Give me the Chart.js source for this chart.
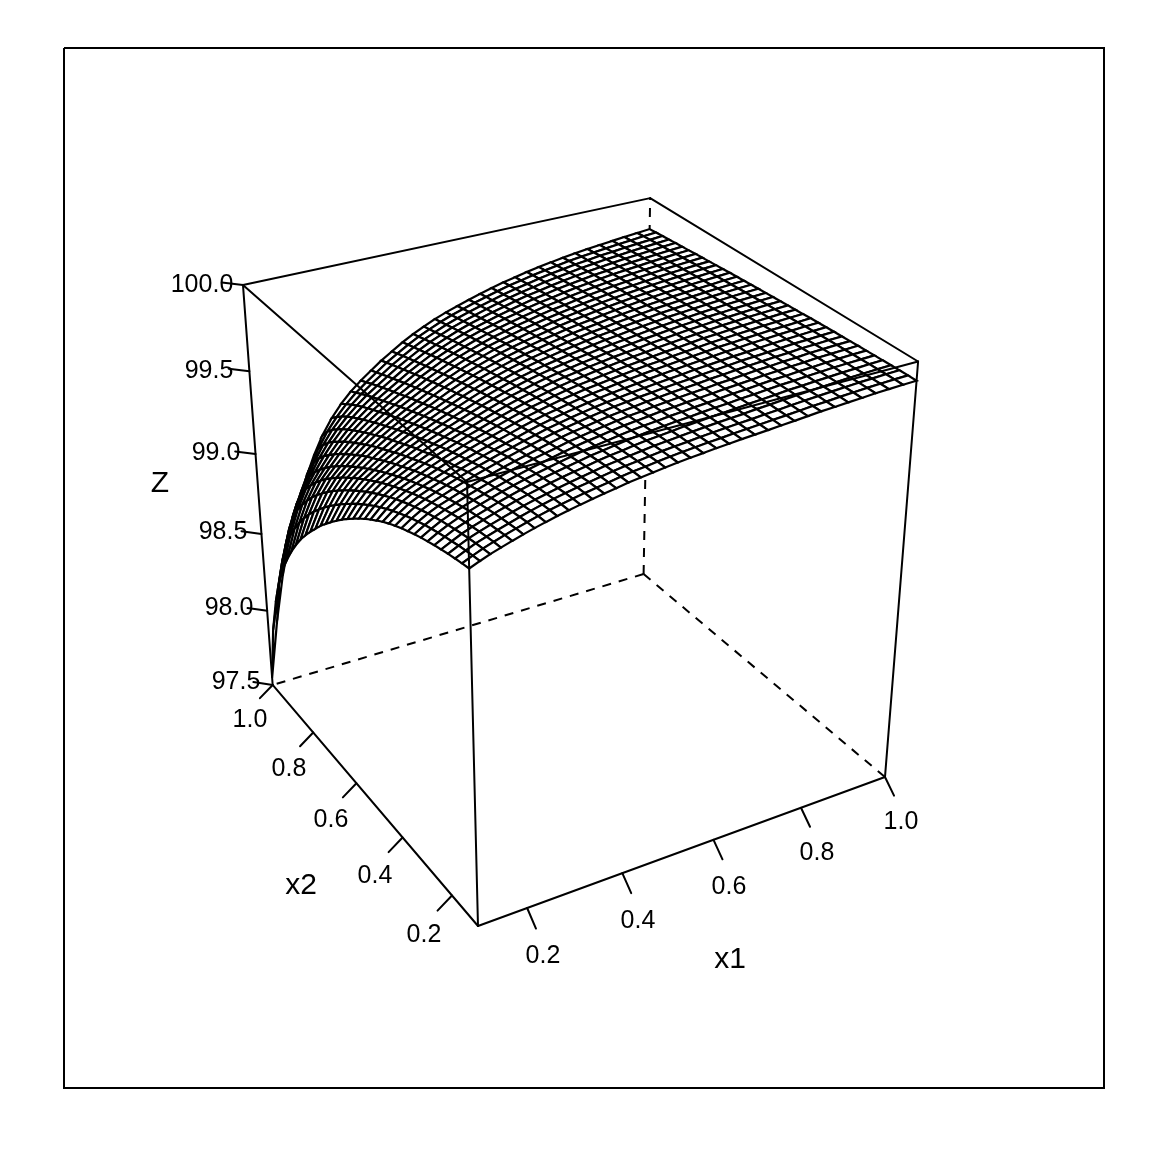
<!DOCTYPE html>
<html>
<head>
<meta charset="utf-8">
<style>
  html, body { margin: 0; padding: 0; background: #fff; }
  #wrap { width: 1152px; height: 1152px; }
</style>
<script src="https://cdn.jsdelivr.net/npm/chart.js"></script>
</head>
<body>
<div id="wrap"><canvas id="myChart" width="1152" height="1152"></canvas></div>
<script>
const x1Values = [0.1,0.12,0.139,0.159,0.18,0.201,0.222,0.243,0.265,0.287,0.309,0.332,0.355,0.378,0.402,0.426,0.45,0.474,0.499,0.524,0.55,0.576,0.602,0.628,0.655,0.682,0.709,0.737,0.765,0.793,0.822,0.851,0.88,0.91,0.939,0.97,1.0];
const x2Values = [0.1,0.125,0.15,0.175,0.2,0.225,0.25,0.275,0.3,0.325,0.35,0.375,0.4,0.425,0.45,0.475,0.5,0.525,0.55,0.575,0.6,0.625,0.65,0.675,0.7,0.725,0.75,0.775,0.8,0.825,0.85,0.875,0.9,0.925,0.95,0.975,1.0];
// one row per x1, one column per x2
const zRows = [
[99.555,99.547,99.537,99.527,99.515,99.503,99.489,99.475,99.459,99.441,99.423,99.403,99.381,99.357,99.33,99.302,99.272,99.24,99.206,99.17,99.132,99.092,99.05,99.006,98.96,98.909,98.857,98.801,98.741,98.673,98.597,98.512,98.416,98.292,98.131,97.911,97.55],
[99.578,99.571,99.563,99.554,99.543,99.532,99.52,99.507,99.493,99.477,99.461,99.443,99.423,99.402,99.379,99.355,99.329,99.301,99.272,99.241,99.208,99.174,99.138,99.1,99.061,99.019,98.974,98.927,98.877,98.82,98.757,98.688,98.609,98.509,98.38,98.205,97.92],
[99.599,99.593,99.586,99.578,99.568,99.558,99.546,99.535,99.521,99.507,99.492,99.476,99.458,99.439,99.419,99.397,99.373,99.349,99.323,99.296,99.267,99.237,99.205,99.173,99.139,99.102,99.064,99.023,98.98,98.932,98.879,98.821,98.755,98.673,98.568,98.427,98.2],
[99.617,99.612,99.605,99.598,99.589,99.579,99.569,99.558,99.545,99.532,99.518,99.503,99.486,99.469,99.45,99.43,99.409,99.387,99.364,99.339,99.313,99.287,99.259,99.23,99.199,99.167,99.134,99.098,99.061,99.019,98.974,98.924,98.869,98.801,98.715,98.601,98.42],
[99.635,99.631,99.624,99.617,99.609,99.599,99.589,99.578,99.566,99.553,99.54,99.526,99.51,99.493,99.476,99.457,99.438,99.417,99.395,99.373,99.349,99.325,99.299,99.273,99.246,99.217,99.187,99.155,99.122,99.086,99.047,99.004,98.958,98.901,98.831,98.74,98.6],
[99.653,99.649,99.642,99.635,99.628,99.618,99.609,99.598,99.587,99.574,99.562,99.548,99.533,99.516,99.501,99.483,99.466,99.446,99.425,99.406,99.384,99.362,99.337,99.314,99.291,99.265,99.237,99.209,99.18,99.149,99.115,99.079,99.041,98.994,98.938,98.868,98.764],
[99.669,99.666,99.66,99.653,99.646,99.637,99.627,99.616,99.606,99.593,99.582,99.569,99.555,99.539,99.525,99.508,99.492,99.473,99.454,99.436,99.416,99.395,99.373,99.352,99.331,99.307,99.283,99.257,99.232,99.205,99.176,99.144,99.113,99.074,99.03,98.975,98.9],
[99.684,99.682,99.676,99.669,99.663,99.654,99.645,99.634,99.625,99.612,99.601,99.589,99.575,99.56,99.548,99.531,99.517,99.499,99.481,99.465,99.446,99.427,99.406,99.387,99.368,99.346,99.324,99.301,99.278,99.254,99.229,99.202,99.175,99.143,99.108,99.065,99.012],
[99.699,99.697,99.692,99.685,99.679,99.671,99.662,99.652,99.643,99.63,99.62,99.608,99.595,99.581,99.569,99.554,99.54,99.524,99.507,99.492,99.474,99.457,99.438,99.42,99.402,99.382,99.362,99.342,99.321,99.299,99.277,99.253,99.23,99.204,99.174,99.141,99.103],
[99.712,99.71,99.706,99.699,99.694,99.686,99.678,99.668,99.66,99.647,99.638,99.626,99.614,99.601,99.59,99.576,99.562,99.547,99.531,99.517,99.501,99.485,99.468,99.451,99.433,99.416,99.397,99.379,99.36,99.339,99.32,99.299,99.279,99.256,99.231,99.205,99.177],
[99.725,99.723,99.719,99.713,99.708,99.701,99.693,99.684,99.675,99.664,99.655,99.644,99.632,99.62,99.61,99.597,99.584,99.57,99.555,99.542,99.527,99.512,99.496,99.481,99.464,99.447,99.43,99.414,99.396,99.377,99.359,99.341,99.322,99.303,99.281,99.259,99.237],
[99.737,99.735,99.732,99.726,99.721,99.715,99.707,99.699,99.691,99.68,99.672,99.661,99.65,99.639,99.629,99.617,99.605,99.592,99.579,99.566,99.552,99.538,99.524,99.509,99.493,99.478,99.462,99.447,99.431,99.413,99.397,99.38,99.363,99.345,99.327,99.307,99.289],
[99.748,99.746,99.743,99.738,99.733,99.727,99.72,99.713,99.705,99.696,99.688,99.678,99.668,99.658,99.648,99.637,99.626,99.614,99.602,99.59,99.577,99.564,99.551,99.537,99.523,99.509,99.494,99.48,99.465,99.449,99.434,99.418,99.402,99.386,99.369,99.352,99.335],
[99.759,99.757,99.754,99.75,99.745,99.739,99.733,99.727,99.719,99.712,99.704,99.695,99.686,99.677,99.667,99.657,99.647,99.636,99.625,99.614,99.602,99.59,99.578,99.565,99.553,99.54,99.526,99.513,99.499,99.485,99.471,99.456,99.441,99.426,99.411,99.396,99.38],
[99.771,99.769,99.766,99.763,99.758,99.753,99.747,99.741,99.734,99.727,99.72,99.712,99.703,99.695,99.686,99.677,99.667,99.657,99.647,99.636,99.626,99.615,99.603,99.592,99.58,99.568,99.556,99.543,99.53,99.517,99.504,99.491,99.477,99.463,99.449,99.435,99.42],
[99.78,99.779,99.776,99.772,99.768,99.763,99.758,99.753,99.746,99.74,99.733,99.726,99.718,99.711,99.702,99.694,99.685,99.676,99.667,99.657,99.647,99.637,99.627,99.617,99.606,99.595,99.584,99.572,99.56,99.549,99.537,99.524,99.512,99.499,99.486,99.473,99.46],
[99.788,99.787,99.784,99.781,99.777,99.773,99.768,99.763,99.757,99.751,99.745,99.739,99.732,99.724,99.717,99.709,99.701,99.693,99.684,99.676,99.667,99.657,99.648,99.638,99.629,99.618,99.608,99.598,99.587,99.576,99.565,99.554,99.542,99.531,99.519,99.507,99.495],
[99.797,99.796,99.793,99.79,99.787,99.783,99.779,99.774,99.768,99.763,99.757,99.751,99.745,99.738,99.731,99.724,99.716,99.709,99.701,99.693,99.684,99.676,99.667,99.658,99.649,99.64,99.63,99.62,99.61,99.6,99.59,99.58,99.569,99.558,99.547,99.536,99.525],
[99.805,99.804,99.802,99.799,99.796,99.792,99.788,99.784,99.779,99.774,99.768,99.763,99.757,99.751,99.744,99.738,99.731,99.724,99.717,99.709,99.701,99.694,99.686,99.677,99.669,99.66,99.652,99.643,99.633,99.624,99.615,99.605,99.595,99.586,99.576,99.565,99.555],
[99.812,99.811,99.809,99.806,99.803,99.8,99.796,99.792,99.788,99.783,99.778,99.773,99.767,99.762,99.756,99.75,99.743,99.737,99.73,99.723,99.716,99.709,99.701,99.694,99.686,99.678,99.67,99.661,99.653,99.644,99.636,99.627,99.618,99.608,99.599,99.59,99.58],
[99.818,99.817,99.815,99.813,99.81,99.807,99.803,99.8,99.795,99.791,99.787,99.782,99.777,99.771,99.766,99.76,99.754,99.748,99.742,99.736,99.729,99.722,99.715,99.708,99.701,99.694,99.686,99.678,99.671,99.663,99.654,99.646,99.638,99.629,99.621,99.612,99.603],
[99.825,99.824,99.822,99.82,99.818,99.815,99.811,99.808,99.804,99.8,99.796,99.791,99.786,99.782,99.776,99.771,99.766,99.76,99.754,99.748,99.742,99.736,99.729,99.723,99.716,99.709,99.702,99.695,99.688,99.68,99.673,99.665,99.657,99.649,99.641,99.633,99.625],
[99.83,99.829,99.828,99.826,99.823,99.82,99.817,99.814,99.811,99.807,99.803,99.799,99.794,99.79,99.785,99.78,99.775,99.77,99.765,99.759,99.753,99.748,99.742,99.736,99.729,99.723,99.716,99.71,99.703,99.696,99.689,99.682,99.675,99.668,99.66,99.653,99.645],
[99.836,99.835,99.834,99.832,99.83,99.827,99.824,99.821,99.818,99.815,99.811,99.807,99.803,99.799,99.795,99.79,99.785,99.781,99.776,99.77,99.765,99.76,99.754,99.749,99.743,99.737,99.731,99.725,99.719,99.712,99.706,99.699,99.693,99.686,99.679,99.672,99.665],
[99.841,99.84,99.839,99.837,99.835,99.833,99.83,99.827,99.824,99.821,99.818,99.814,99.811,99.807,99.803,99.798,99.794,99.79,99.785,99.78,99.776,99.771,99.766,99.76,99.755,99.75,99.744,99.738,99.733,99.727,99.721,99.715,99.709,99.702,99.696,99.69,99.683],
[99.846,99.845,99.844,99.842,99.841,99.838,99.836,99.833,99.83,99.827,99.824,99.821,99.818,99.814,99.81,99.806,99.802,99.798,99.794,99.789,99.785,99.78,99.775,99.77,99.765,99.76,99.755,99.75,99.744,99.739,99.733,99.728,99.722,99.716,99.71,99.704,99.698],
[99.852,99.851,99.85,99.849,99.847,99.845,99.843,99.84,99.838,99.835,99.832,99.829,99.825,99.822,99.819,99.815,99.811,99.807,99.803,99.799,99.795,99.791,99.786,99.782,99.777,99.772,99.767,99.762,99.757,99.752,99.747,99.742,99.736,99.731,99.725,99.72,99.714],
[99.857,99.856,99.855,99.854,99.852,99.85,99.848,99.846,99.843,99.841,99.838,99.835,99.832,99.829,99.826,99.822,99.819,99.815,99.811,99.808,99.804,99.8,99.795,99.791,99.787,99.782,99.778,99.773,99.769,99.764,99.759,99.754,99.749,99.744,99.739,99.733,99.728],
[99.863,99.862,99.861,99.86,99.858,99.857,99.855,99.852,99.85,99.848,99.845,99.842,99.839,99.836,99.833,99.83,99.827,99.823,99.82,99.816,99.812,99.808,99.804,99.8,99.796,99.792,99.788,99.783,99.779,99.774,99.769,99.765,99.76,99.755,99.75,99.745,99.74],
[99.869,99.868,99.867,99.866,99.865,99.863,99.861,99.859,99.857,99.854,99.852,99.849,99.846,99.844,99.841,99.838,99.834,99.831,99.828,99.824,99.821,99.817,99.813,99.809,99.805,99.801,99.797,99.793,99.789,99.784,99.78,99.776,99.771,99.766,99.762,99.757,99.752],
[99.873,99.872,99.872,99.87,99.869,99.867,99.865,99.863,99.861,99.859,99.857,99.854,99.852,99.849,99.846,99.843,99.84,99.837,99.834,99.83,99.827,99.824,99.82,99.816,99.813,99.809,99.805,99.801,99.797,99.793,99.789,99.784,99.78,99.776,99.771,99.767,99.762],
[99.878,99.878,99.877,99.875,99.874,99.873,99.871,99.869,99.867,99.865,99.862,99.86,99.858,99.855,99.852,99.849,99.847,99.844,99.841,99.837,99.834,99.831,99.827,99.824,99.82,99.817,99.813,99.809,99.805,99.801,99.797,99.793,99.789,99.785,99.781,99.776,99.772],
[99.882,99.882,99.881,99.88,99.878,99.877,99.875,99.873,99.871,99.869,99.867,99.865,99.862,99.86,99.857,99.855,99.852,99.849,99.846,99.843,99.84,99.837,99.833,99.83,99.826,99.823,99.819,99.816,99.812,99.808,99.804,99.801,99.797,99.792,99.788,99.784,99.78],
[99.887,99.887,99.886,99.885,99.883,99.882,99.88,99.879,99.877,99.875,99.873,99.87,99.868,99.866,99.863,99.86,99.858,99.855,99.852,99.849,99.846,99.843,99.84,99.836,99.833,99.83,99.826,99.823,99.819,99.815,99.812,99.808,99.804,99.8,99.796,99.792,99.788],
[99.89,99.89,99.889,99.888,99.886,99.885,99.884,99.882,99.88,99.878,99.876,99.874,99.872,99.869,99.867,99.864,99.862,99.859,99.856,99.854,99.851,99.848,99.845,99.841,99.838,99.835,99.832,99.828,99.825,99.821,99.818,99.814,99.81,99.807,99.803,99.799,99.795],
[99.893,99.893,99.892,99.891,99.89,99.888,99.887,99.885,99.884,99.882,99.88,99.878,99.876,99.873,99.871,99.869,99.866,99.864,99.861,99.858,99.856,99.853,99.85,99.847,99.844,99.841,99.838,99.835,99.831,99.828,99.825,99.821,99.818,99.814,99.81,99.807,99.803],
[99.895,99.895,99.894,99.893,99.892,99.891,99.889,99.888,99.886,99.884,99.883,99.881,99.879,99.877,99.874,99.872,99.87,99.867,99.865,99.862,99.86,99.857,99.854,99.852,99.849,99.846,99.843,99.84,99.837,99.834,99.83,99.827,99.824,99.82,99.817,99.814,99.81]
];
const x1Ticks = [0.2, 0.4, 0.6, 0.8, 1.0];
const x2Ticks = [0.2, 0.4, 0.6, 0.8, 1.0];
const zTicks = [97.5, 98.0, 98.5, 99.0, 99.5, 100.0];
const x1Min = 0.1, x1Max = 1.0, x2Min = 0.1, x2Max = 1.0, zMin = 97.5, zMax = 100.0;

// perspective of the box, fitted on its corners
function project(x1, x2, z) {
  const X = (x1 - x1Min) / (x1Max - x1Min);
  const Y = (x2 - x2Min) / (x2Max - x2Min);
  const Z = (z - zMin) / (zMax - zMin);
  const w = 1 + 0.0989 * X + 0.1615 * Y - 0.105 * Z;
  return {
    x: (478 + 494.5 * X - 161.3 * Y - 60 * Z) / w,
    y: (926 - 72.1 * X - 130.4 * Y - 494.6 * Z) / w
  };
}

const datasets = [];
function addLine(points, opts) {
  datasets.push(Object.assign({
    data: points, showLine: true, pointRadius: 0, borderColor: "#000",
    borderWidth: 2, tension: 0, fill: false, borderCapStyle: "round"
  }, opts));
}
function edge(a, b, opts) {
  addLine([project(a[0], a[1], a[2]), project(b[0], b[1], b[2])], opts);
}

// hidden box edges
const dashed = { borderDash: [9, 8], borderCapStyle: "butt" };
edge([x1Max, x2Max, zMin], [x1Min, x2Max, zMin], dashed);
edge([x1Max, x2Max, zMin], [x1Max, x2Min, zMin], dashed);
edge([x1Max, x2Max, zMin], [x1Max, x2Max, zMax], dashed);

// surface, back to front
for (let i = x1Values.length - 2; i >= 0; i--) {
  for (let j = x2Values.length - 2; j >= 0; j--) {
    addLine([
      project(x1Values[i], x2Values[j], zRows[i][j]),
      project(x1Values[i + 1], x2Values[j], zRows[i + 1][j]),
      project(x1Values[i + 1], x2Values[j + 1], zRows[i + 1][j + 1]),
      project(x1Values[i], x2Values[j + 1], zRows[i][j + 1]),
      project(x1Values[i], x2Values[j], zRows[i][j])
    ], { cell: true, borderWidth: 2.2 });
  }
}

// visible box edges
edge([x1Min, x2Min, zMin], [x1Min, x2Min, zMax]);
edge([x1Max, x2Min, zMin], [x1Max, x2Min, zMax]);
edge([x1Min, x2Max, zMin], [x1Min, x2Max, zMax]);
edge([x1Min, x2Min, zMin], [x1Max, x2Min, zMin]);
edge([x1Min, x2Min, zMin], [x1Min, x2Max, zMin]);
edge([x1Min, x2Min, zMax], [x1Max, x2Min, zMax]);
edge([x1Min, x2Min, zMax], [x1Min, x2Max, zMax]);
edge([x1Max, x2Max, zMax], [x1Max, x2Min, zMax]);
edge([x1Max, x2Max, zMax], [x1Min, x2Max, zMax]);

// tick marks
x1Ticks.forEach((t) => edge([t, x2Min, zMin], [t, x2Min - 0.032, zMin - 0.068]));
x2Ticks.forEach((t) => edge([x1Min, t, zMin], [x1Min - 0.03, t, zMin - 0.063]));
zTicks.forEach((t) => edge([x1Min, x2Max, t], [x1Min - 0.03, x2Max + 0.03, t]));

// plot frame
addLine([{ x: 64, y: 48 }, { x: 1104, y: 48 }, { x: 1104, y: 1088 }, { x: 64, y: 1088 }, { x: 64, y: 48 }], { borderCapStyle: "butt" });

// chart.js paints the first dataset last
datasets.reverse();

const tickFont = "25px 'Liberation Sans'";
const titleFont = "30px 'Liberation Sans'";
const texts = [
  ["0.2", 543, 956, tickFont], ["0.4", 638, 921, tickFont], ["0.6", 729, 887, tickFont],
  ["0.8", 817, 853, tickFont], ["1.0", 901, 822, tickFont],
  ["0.2", 424, 935, tickFont], ["0.4", 375, 876, tickFont], ["0.6", 331, 820, tickFont],
  ["0.8", 289, 769, tickFont], ["1.0", 250, 720, tickFont],
  ["97.5", 236, 682, tickFont], ["98.0", 229, 608, tickFont], ["98.5", 223, 532, tickFont],
  ["99.0", 216, 453, tickFont], ["99.5", 209, 371, tickFont], ["100.0", 202, 285, tickFont],
  ["x1", 730, 960, titleFont], ["x2", 301, 886, titleFont], ["Z", 160, 484, titleFont]
];

const cellFill = {
  id: "cellFill",
  beforeDatasetDraw(chart, args) {
    if (!args.meta._dataset.cell) return;
    const ctx = chart.ctx;
    ctx.save();
    ctx.fillStyle = "#fff";
    ctx.beginPath();
    args.meta.data.forEach((p, k) => (k ? ctx.lineTo(p.x, p.y) : ctx.moveTo(p.x, p.y)));
    ctx.fill();
    ctx.restore();
  }
};
const textLabels = {
  id: "textLabels",
  afterDraw(chart) {
    const ctx = chart.ctx;
    ctx.save();
    ctx.fillStyle = "#000";
    ctx.textAlign = "center";
    ctx.textBaseline = "middle";
    texts.forEach((t) => {
      ctx.font = t[3];
      ctx.fillText(t[0], t[1], t[2]);
    });
    ctx.restore();
  }
};

new Chart(document.getElementById("myChart"), {
  type: "scatter",
  data: { datasets },
  plugins: [cellFill, textLabels],
  options: {
    responsive: false,
    animation: false,
    layout: { padding: 0 },
    plugins: { legend: { display: false }, tooltip: { enabled: false }, title: { display: false } },
    scales: {
      x: { type: "linear", min: 0, max: 1152, display: false },
      y: { type: "linear", min: 0, max: 1152, reverse: true, display: false }
    }
  }
});
</script>
</body>
</html>
